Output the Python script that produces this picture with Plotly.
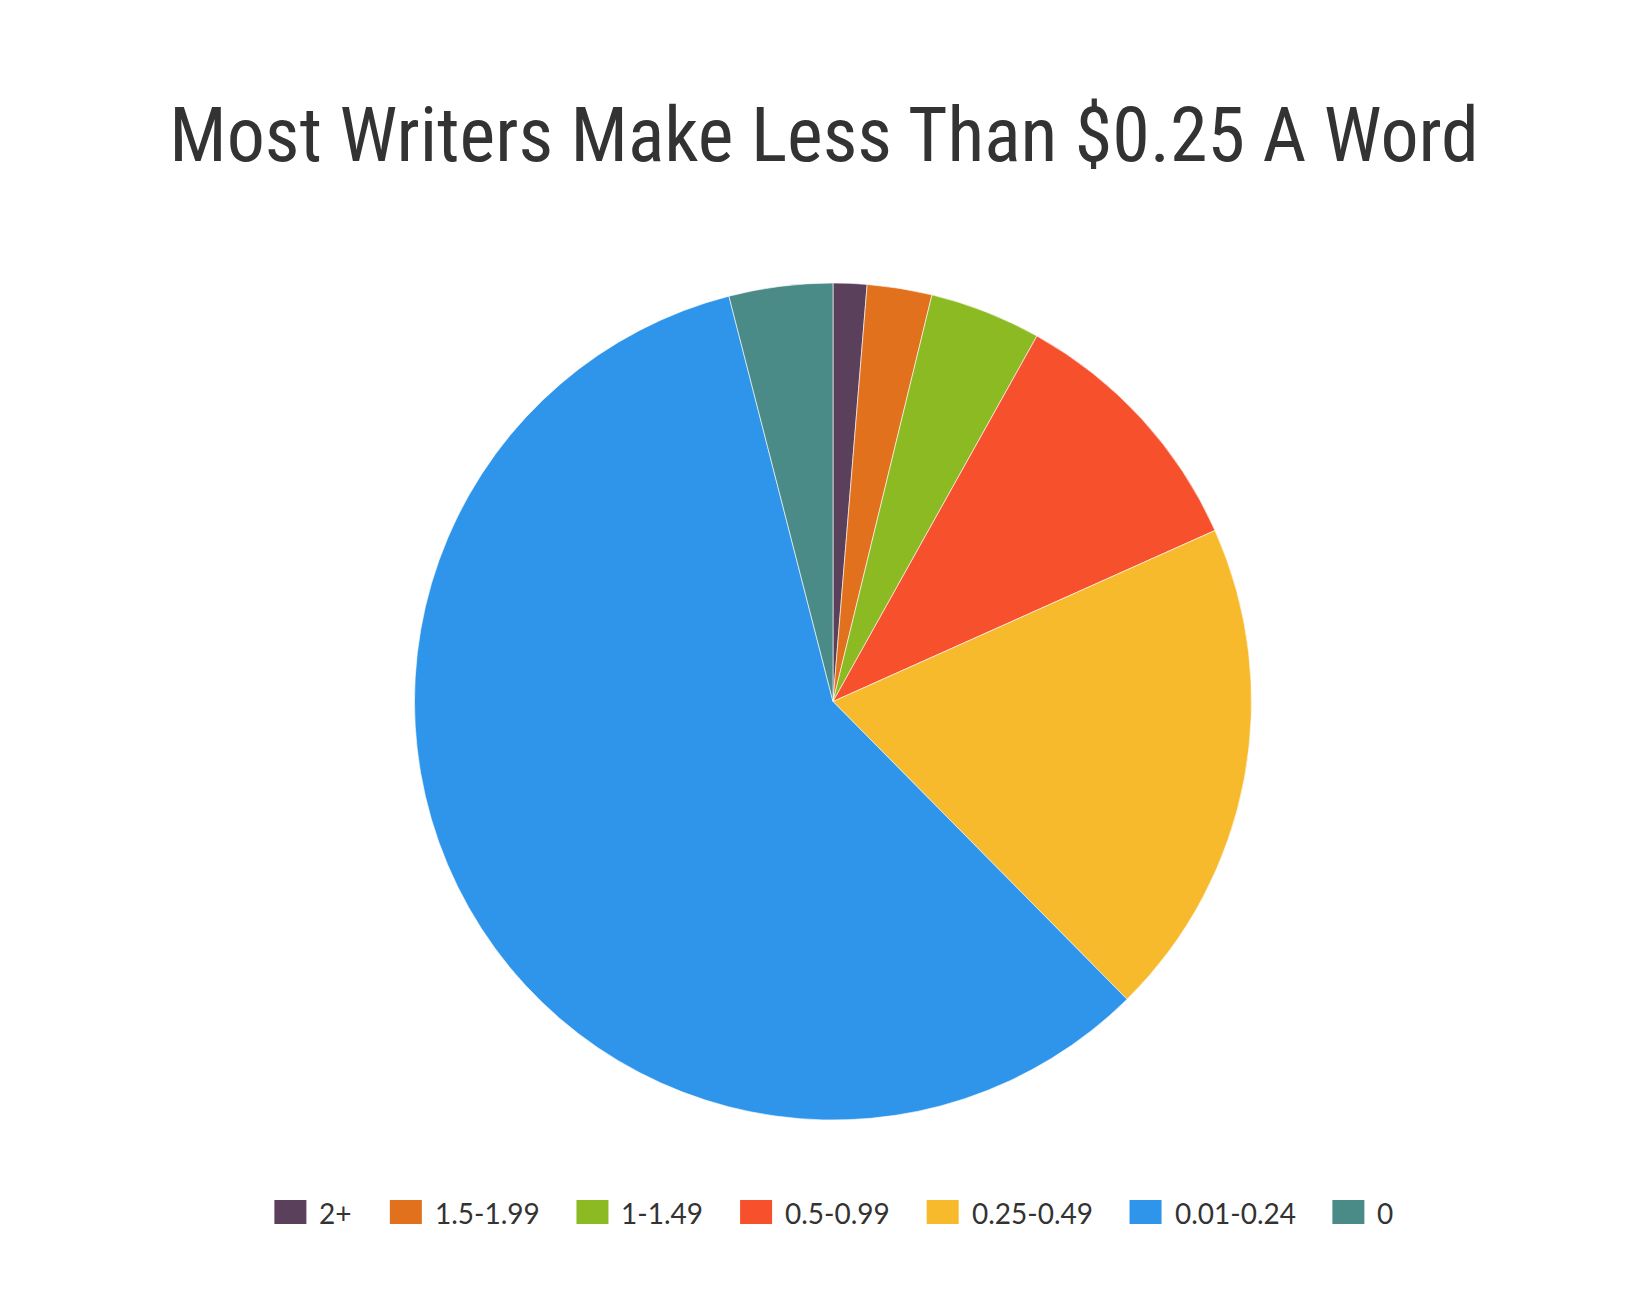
import plotly.graph_objects as go

# rate per word buckets, share of writers (%)
labels = ['2+', '1.5-1.99', '1-1.49', '0.5-0.99', '0.25-0.49', '0.01-0.24', '0']
shares = [1.3, 2.5, 4.3, 10.2, 19.3, 58.4, 4.0]
colors = ['#5B405B', '#E2711E', '#8BBA22', '#F6502D', '#F6BA2C', '#2F95EA', '#4A8A87']

W, H = 1632, 1300
L, R, T, B = 200, 182, 275, 188
plot_w, plot_h = W - L - R, H - T - B

def px_x(px):
    return (px - L) / plot_w

def px_y(py):
    return (H - B - py) / plot_h

fig = go.Figure()
fig.add_trace(go.Pie(labels=labels, values=shares, sort=False, direction='clockwise', rotation=0,
                     marker=dict(colors=colors, line=dict(color='rgba(255,255,255,0.6)', width=1)),
                     textinfo='none', hoverinfo='label+percent', showlegend=False))

# legend drawn by hand: big rectangular swatches like the original
leg_font = 28
char_w = {'.': 0.24, '-': 0.32, '+': 0.58}
def text_width(s):
    return sum(char_w.get(c, 0.58) for c in s) * leg_font

sw_w, sw_h, txt_off, gap = 32, 24, 43, 40
widths = [text_width(s) for s in labels]
total = sum(txt_off + w for w in widths) + gap * (len(labels) - 1)
x = 825 - total / 2
leg_y = 1204
for lab, col, w in zip(labels, colors, widths):
    fig.add_shape(type='rect', xref='paper', yref='paper',
                  x0=px_x(x), x1=px_x(x + sw_w), y0=px_y(leg_y + sw_h / 2), y1=px_y(leg_y - sw_h / 2),
                  fillcolor=col, line=dict(width=0))
    fig.add_annotation(text=lab, xref='paper', yref='paper', x=px_x(x + txt_off), y=px_y(leg_y + 1),
                       xanchor='left', yanchor='middle', showarrow=False,
                       font=dict(family='Lato, sans-serif', size=leg_font, color='#333333'))
    x += txt_off + w + gap

fig.update_layout(
    width=W, height=H,
    paper_bgcolor='white', plot_bgcolor='white',
    margin=dict(l=L, r=R, t=T, b=B),
    title=dict(text='Most Writers Make Less Than $0.25 A Word', x=0.5, xanchor='center',
               y=1 - 126 / H, yanchor='middle',
               font=dict(family='Liberation Sans Narrow, Roboto Condensed, Roboto, sans-serif', size=76, color='#333333')),
)

fig.write_html("out.html")
